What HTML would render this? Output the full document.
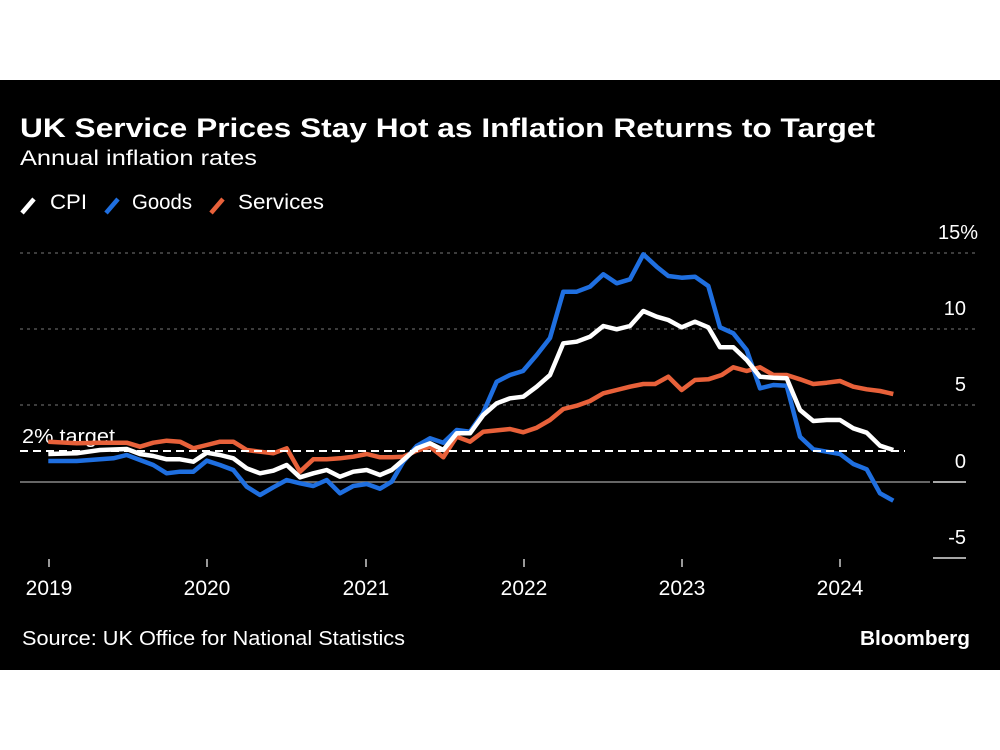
<!DOCTYPE html>
<html><head><meta charset="utf-8"><style>
body{margin:0;width:1000px;height:750px;background:#fff;overflow:hidden}
svg{display:block}
text{font-family:"Liberation Sans",sans-serif;fill:#fff}
</style></head><body>
<svg width="1000" height="750" viewBox="0 0 1000 750">
<rect x="0" y="80" width="1000" height="590" fill="#000"/>
<text x="20" y="137" font-size="27" font-weight="bold" textLength="855" lengthAdjust="spacingAndGlyphs">UK Service Prices Stay Hot as Inflation Returns to Target</text>
<text x="20" y="165" font-size="21" fill="#ddd" textLength="237" lengthAdjust="spacingAndGlyphs">Annual inflation rates</text>
<g font-size="21">
<path d="M22 213 L34 199" stroke="#fff" stroke-width="4.5"/><text x="50" y="209" textLength="37" lengthAdjust="spacingAndGlyphs">CPI</text>
<path d="M106 213 L118 199" stroke="#1f6fe0" stroke-width="4.5"/><text x="132" y="209" textLength="60" lengthAdjust="spacingAndGlyphs">Goods</text>
<path d="M211 213 L223 199" stroke="#e8613a" stroke-width="4.5"/><text x="238" y="209" textLength="86" lengthAdjust="spacingAndGlyphs">Services</text>
</g>
<g stroke="#777" stroke-width="1" stroke-dasharray="3,4">
<line x1="20" y1="253" x2="975" y2="253"/>
<line x1="20" y1="329" x2="975" y2="329"/>
<line x1="20" y1="405" x2="975" y2="405"/>
</g>
<line x1="20" y1="482" x2="930" y2="482" stroke="#888" stroke-width="1.5"/>
<line x1="933" y1="482" x2="966" y2="482" stroke="#ddd" stroke-width="1.5"/>
<line x1="933" y1="558" x2="966" y2="558" stroke="#ddd" stroke-width="1.5"/>
<g font-size="20" text-anchor="end">
<text x="978" y="239">15%</text><text x="966" y="315">10</text><text x="966" y="391">5</text><text x="966" y="468">0</text><text x="966" y="544">-5</text>
</g>
<g stroke="#ccc" stroke-width="1.5">
<line x1="49" y1="559" x2="49" y2="567"/><line x1="207" y1="559" x2="207" y2="567"/><line x1="366" y1="559" x2="366" y2="567"/><line x1="524" y1="559" x2="524" y2="567"/><line x1="682" y1="559" x2="682" y2="567"/><line x1="840" y1="559" x2="840" y2="567"/>
</g>
<g font-size="21" text-anchor="middle">
<text x="49" y="595">2019</text><text x="207" y="595">2020</text><text x="366" y="595">2021</text><text x="524" y="595">2022</text><text x="682" y="595">2023</text><text x="840" y="595">2024</text>
</g>
<text x="22" y="443" font-size="20" textLength="93" lengthAdjust="spacingAndGlyphs">2% target</text>
<g fill="none" stroke-width="4.5" stroke-linejoin="round">
<polyline stroke="#e8613a" points="48.3,441.7 76.7,443.3 100,442.7 126.7,442.7 140,446.7 153.3,442.7 166.7,440.7 180,441.7 193.3,448.3 206.7,445 220,441.7 233.3,441.7 246.7,450 260,451.7 273.3,453.3 286.7,448.3 300,471.7 313.3,459.3 326.7,459.3 340,458.3 353.3,456.7 366.7,454 380,457.3 391.7,457.3 403.3,456.7 416.7,450.7 430,446.7 443.3,457.3 456.7,436.7 470,441.7 483.3,431.7 510,429 523.3,432.3 536.7,427.7 550,420 563.3,409 576.7,405.7 590,401 603.3,393.3 616.7,390 630,386.7 643.3,384 655,384 668.3,376.7 681.7,390 695,380 708.3,379.3 721.7,375 733.3,367.3 746.7,371 760,367.3 773.3,375 786.7,375 800,379.3 813.3,384 826.7,382.7 840,381 853.3,386.7 866.7,389.3 880,391 893.3,394"/>
<polyline stroke="#1f6fe0" points="48.3,461 76.7,461 113.3,458.3 126.7,455 140,460 153.3,465 166.7,473.3 180,471.7 193.3,471.7 206.7,460.7 220,465 233.3,470 246.7,486.7 260,495 273.3,487.3 286.7,480 300,483.3 313.3,486 326.7,480 340,493.3 353.3,486 366.7,484 380,488.7 391.7,481.7 403.3,461.7 416.7,446 430,438.3 443.3,442.7 456.7,430 470,431.7 483,413 496.7,381.7 510,375 523,371 536.7,355 550,338 563.3,291.7 576.7,291.7 590,286.7 603.3,274.3 616.7,283.3 630,279.3 643.3,254.3 656.7,266.7 668.3,276 681.7,277.7 695,276.7 708.3,286 720,327.3 733.3,333.3 746.7,350 760,388.3 773.3,385 786.7,385.7 800,436.7 813.3,449.3 826.7,451.7 840,454 853.3,464 866.7,469.3 880,493.3 893.3,500.7"/>
<polyline stroke="#fff" points="48.3,454 76.7,453.3 100,450 126.7,449 140,454 153.3,456 166.7,459.3 180,459.3 193.3,461.7 206.7,452.7 220,455 233.3,458.3 246.7,468.3 260,473.3 273.3,470.7 286.7,465 300,477.3 313.3,473.3 326.7,470 340,476.7 353.3,471.7 366.7,470 380,475 391.7,470 403.3,460 416.7,448.3 430,443.3 443.3,450 456.7,433.3 470,433.3 483.3,415 496.7,403.3 510,398.3 523.3,396.7 536.7,386.7 550,375 563.3,343.3 576.7,341.7 590,336.7 603.3,326 616.7,329.3 630,326 643.3,311 656.7,316.7 668.3,320 681.7,327.3 695,321.7 708.3,327.3 720,347.3 733.3,347.3 746.7,360 760,376.7 773.3,377.7 786.7,378.3 800,410 813.3,421 826.7,420 840,420 853.3,428.3 866.7,432.7 880,445.7 893.3,450"/>
</g>
<line x1="20" y1="451" x2="905" y2="451" stroke="#fff" stroke-width="2" stroke-dasharray="8,5"/>
<text x="22" y="645" font-size="20" textLength="383" lengthAdjust="spacingAndGlyphs">Source: UK Office for National Statistics</text>
<text x="970" y="645" font-size="20" font-weight="bold" text-anchor="end" textLength="110" lengthAdjust="spacingAndGlyphs">Bloomberg</text>
</svg>
</body></html>
